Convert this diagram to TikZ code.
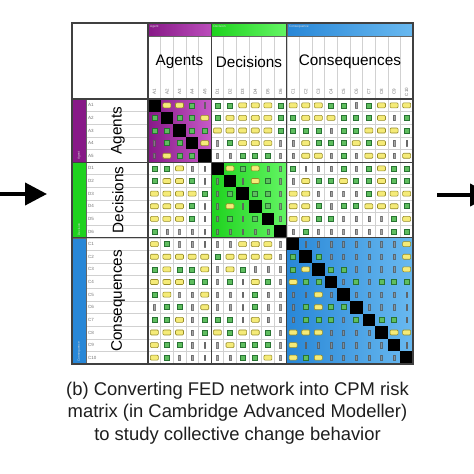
\documentclass[tikz,border=0pt]{standalone}
\usepackage{fontspec}
\setmainfont{Liberation Sans}
\usetikzlibrary{arrows.meta}
\definecolor{purpD}{RGB}{135,25,135}
\definecolor{purpL}{RGB}{200,90,200}
\definecolor{grnD}{RGB}{30,210,30}
\definecolor{grnL}{RGB}{100,245,100}
\definecolor{bluD}{RGB}{40,135,215}
\definecolor{bluL}{RGB}{105,185,240}
\definecolor{gF}{RGB}{95,190,95}
\definecolor{gB}{RGB}{40,115,50}
\definecolor{yF}{RGB}{245,235,120}
\definecolor{yB}{RGB}{150,140,40}
\definecolor{iF}{RGB}{140,140,140}
\definecolor{iB}{RGB}{85,85,85}
\definecolor{capC}{RGB}{30,30,30}
\newcommand\cellG[2]{\path[gmk] (#1,#2) ++(-2.5,-2.5) rectangle ++(5,5);}
\newcommand\cellY[2]{\path[ymk] (#1,#2) ++(-4,-2.5) rectangle ++(8,5);}
\newcommand\cellI[2]{\path[imk] (#1,#2) ++(-0.9,-2.7) rectangle ++(1.8,5.4);}
\newcommand\cellX[2]{\fill[black] (#1,#2) ++(-6.31,-6.31) rectangle ++(12.62,12.62);}
\newcommand\cellO[2]{}
\def\cw{12.619}
\begin{document}
\begin{tikzpicture}[x=1pt,y=-1pt,
  gmk/.style={draw=gB,fill=gF,line width=0.6pt},
  ymk/.style={draw=yB,fill=yF,line width=0.6pt,rounded corners=1pt},
  imk/.style={draw=iB,fill=iF,line width=0.4pt,opacity=0.75},
  gridl/.style={draw=black!18,line width=0.5pt},
  sepl/.style={draw=black!75,line width=1.1pt},
  bigl/.style={font=\fontsize{15.3}{16}\selectfont,inner sep=0pt,text=black},
  tinyl/.style={font=\fontsize{4.5}{5}\selectfont,text=black!55,inner sep=0pt},
  barl/.style={font=\fontsize{3.2}{4}\selectfont,text=white!85!black,inner sep=0pt},
  capt/.style={font=\fontsize{18.4}{22.5}\selectfont,align=center,text=capC,inner sep=0pt},
  arr/.style={line width=4pt,-{Triangle[length=22pt,width=22pt]}}]
\useasboundingbox (0,0) rectangle (474,474);
\fill[white] (0,0) rectangle (474,474);
% grid lines
\foreach \i in {0,...,21}{
  \draw[gridl] ({148+\i*\cw},36) -- ({148+\i*\cw},364);
  \draw[gridl] (86,{99+\i*\cw}) -- (413,{99+\i*\cw});
}
% diagonal blocks
\shade[left color=purpD,right color=purpL] (148,99) rectangle ({148+5*\cw},{99+5*\cw});
\shade[left color=grnD,right color=grnL] ({148+5*\cw},{99+5*\cw}) rectangle ({148+11*\cw},{99+11*\cw});
\shade[left color=bluD,right color=bluL] ({148+11*\cw},{99+11*\cw}) rectangle (413,364);
% top group bars
\shade[left color=purpD,right color=purpL!80!purpD,draw=black!60,line width=0.4pt] (148,23) rectangle ({148+5*\cw},36);
\shade[left color=grnD,right color=grnL,draw=black!60,line width=0.4pt] ({148+5*\cw},23) rectangle ({148+11*\cw},36);
\shade[left color=bluD,right color=bluL,draw=black!60,line width=0.4pt] ({148+11*\cw},23) rectangle (413,36);
\node[barl,anchor=north west] (tbA) at (150,25) {Agent};
\node[barl,anchor=north west] (tbD) at ({150+5*\cw},25) {Decision};
\node[barl,anchor=north west] (tbC) at ({150+11*\cw},25) {Consequence};
% left group bars
\shade[left color=purpD,middle color=purpL,right color=purpD,draw=black!60,line width=0.4pt] (72,99) rectangle (86,{99+5*\cw});
\shade[left color=grnD,middle color=grnL,right color=grnD,draw=black!60,line width=0.4pt] (72,{99+5*\cw}) rectangle (86,{99+11*\cw});
\shade[left color=bluD,middle color=bluL,right color=bluD,draw=black!60,line width=0.4pt] (72,{99+11*\cw}) rectangle (86,364);
\node[barl,anchor=west,rotate=90] (lbA) at (79,{97+5*\cw}) {Agent};
\node[barl,anchor=west,rotate=90] (lbD) at (79,{97+11*\cw}) {Decision};
\node[barl,anchor=west,rotate=90] (lbC) at (79,362) {Consequence};
% row and column labels
\foreach \lab [count=\c] in {A1,A2,A3,A4,A5,D1,D2,D3,D4,D5,D6,C1,C2,C3,C4,C5,C6,C7,C8,C9,C10}{
  \node[tinyl,rotate=90] (cl\c) at ({148+(\c-0.5)*\cw},92) {\lab};
  \node[tinyl,anchor=west] (rl\c) at (88,{99+(\c-0.5)*\cw}) {\lab};
}
% matrix cells
\foreach \rowdata [count=\r] in {
 {X,Y,Y,G,I, G,G,Y,Y,Y,G, Y,Y,Y,G,G,I,G,Y,Y,Y},
 {G,X,G,G,Y, G,Y,Y,Y,Y,G, G,Y,Y,Y,G,G,G,Y,I,G},
 {G,G,X,G,G, Y,Y,Y,Y,Y,G, G,G,G,I,G,G,Y,Y,Y,G},
 {I,G,G,X,Y, I,G,Y,Y,Y,I, I,Y,G,G,G,Y,G,Y,I,I},
 {I,Y,G,G,X, I,I,G,G,G,I, I,Y,Y,I,G,I,Y,Y,I,Y},
 {G,G,Y,I,I, X,Y,G,Y,I,I, G,I,I,I,G,I,G,Y,G,G},
 {G,Y,Y,G,I, I,X,I,Y,G,I, I,Y,G,G,Y,G,G,Y,G,G},
 {Y,Y,Y,Y,G, I,G,X,G,G,I, Y,Y,I,I,I,I,G,Y,Y,Y},
 {Y,Y,Y,G,I, I,Y,I,X,G,I, Y,Y,G,I,G,G,Y,Y,Y,G},
 {Y,Y,Y,G,I, I,G,I,G,X,I, Y,Y,G,G,I,I,I,I,G,Y},
 {G,I,I,I,I, I,I,I,I,I,X, I,G,I,I,I,I,I,I,G,G},
 {Y,G,I,I,I, I,I,Y,Y,Y,I, X,I,I,I,I,I,I,I,I,Y},
 {Y,Y,Y,Y,Y, G,Y,Y,Y,Y,I, G,X,G,I,I,I,I,I,I,Y},
 {G,Y,G,G,Y, I,Y,G,I,I,I, G,Y,X,G,G,I,I,I,I,Y},
 {Y,Y,Y,G,G, I,G,I,Y,G,I, Y,G,G,X,I,G,I,G,G,G},
 {G,Y,I,I,Y, I,I,I,G,I,I, I,I,Y,I,X,I,I,I,I,I},
 {I,G,G,I,Y, I,I,I,G,I,I, I,G,Y,G,G,X,I,I,I,I},
 {G,G,Y,I,G, G,G,I,Y,I,I, I,G,G,G,I,G,X,G,G,I},
 {Y,Y,Y,I,G, Y,G,Y,Y,G,I, Y,Y,Y,I,I,I,I,X,Y,Y},
 {Y,G,G,I,I, I,Y,G,G,G,I, Y,I,I,I,I,I,I,I,X,I},
 {Y,G,I,I,I, I,I,G,G,Y,I, Y,G,Y,I,I,I,I,I,I,X}}{
  \foreach \code [count=\c] in \rowdata{
    \pgfmathsetmacro\cx{148+(\c-0.5)*\cw}
    \pgfmathsetmacro\cy{99+(\r-0.5)*\cw}
    \csname cell\code\endcsname{\cx}{\cy}
  }
}
% separators and frame
\draw[sepl] (148,23) -- (148,364);
\draw[sepl] ({148+5*\cw},23) -- ({148+5*\cw},364);
\draw[sepl] ({148+11*\cw},23) -- ({148+11*\cw},364);
\draw[sepl] (72,99) -- (413,99);
\draw[sepl] (72,{99+5*\cw}) -- (413,{99+5*\cw});
\draw[sepl] (72,{99+11*\cw}) -- (413,{99+11*\cw});
\draw[sepl] (72,23) rectangle (413,364);
% big labels
\node[bigl] (hA) at ({148+2.5*\cw},62) {Agents};
\node[bigl] (hD) at ({148+8*\cw},62) {Decisions};
\node[bigl] (hC) at ({148+16*\cw},62) {Consequences};
\node[bigl,rotate=90] (vA) at (118,{99+2.5*\cw}) {Agents};
\node[bigl,rotate=90] (vD) at (118,{99+8*\cw}) {Decisions};
\node[bigl,rotate=90] (vC) at (118,{99+16*\cw}) {Consequences};
% arrows
\coordinate (la0) at (0,194);
\coordinate (la1) at (47,194);
\draw[arr] (la0) -- (la1);
\coordinate (ra0) at (437,195);
\coordinate (ra1) at (492,195);
\draw[arr] (ra0) -- (ra1);
% caption
\node[capt] (cap) at (237.5,413) {(b) Converting FED network into CPM risk\\matrix (in Cambridge Advanced Modeller)\\to study collective change behavior};
\end{tikzpicture}
\end{document}
